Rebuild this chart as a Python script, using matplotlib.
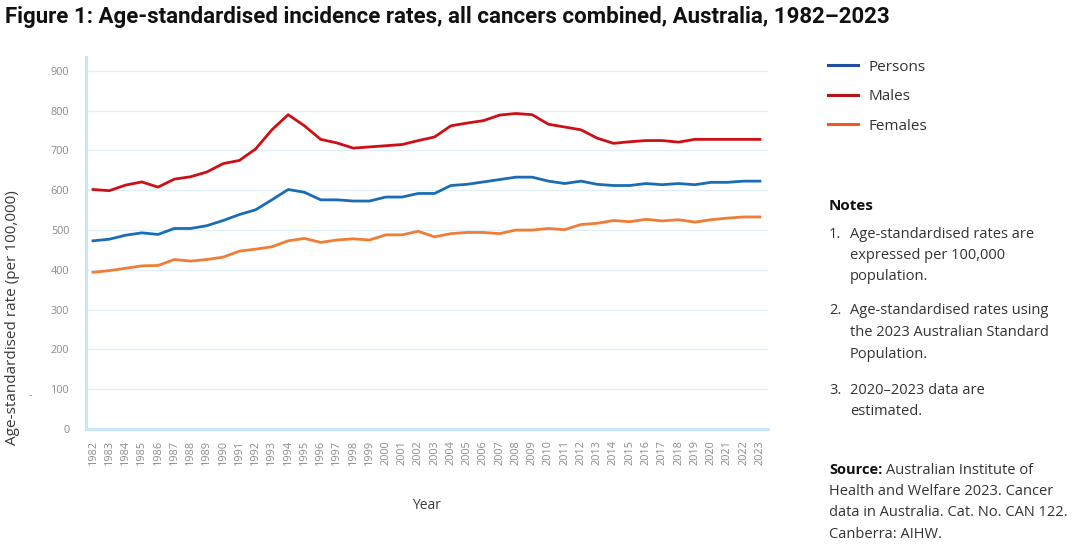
import matplotlib
matplotlib.use("Agg")
import matplotlib.pyplot as plt
from matplotlib.lines import Line2D

# --- data ---
years = list(range(1982, 2024))
persons = [473, 477, 487, 493, 489, 504, 504, 511, 524, 539, 551, 576, 602, 595,
           576, 576, 573, 573, 583, 583, 592, 592, 612, 615, 621, 627, 633, 633,
           623, 617, 623, 615, 612, 612, 617, 614, 617, 614, 620, 620, 623, 623]
males = [602, 599, 613, 621, 608, 628, 634, 646, 667, 675, 704, 752, 790, 762,
         728, 719, 706, 709, 712, 715, 725, 734, 762, 769, 775, 789, 793, 790,
         766, 759, 752, 731, 718, 722, 725, 725, 721, 728, 728, 728, 728, 728]
females = [394, 398, 404, 410, 411, 426, 422, 426, 432, 447, 452, 458, 473, 479,
           469, 475, 478, 475, 488, 488, 497, 483, 491, 494, 494, 491, 500, 500,
           504, 501, 514, 517, 524, 521, 527, 523, 526, 520, 526, 530, 533, 533]
series_names = ["Persons", "Males", "Females"]
line_colors = ["#1a6db5", "#cc1016", "#ef7d35"]
legend_colors = ["#1f4f9e", "#b3131b", "#f05a22"]
yticks = list(range(0, 1000, 100))

W, H = 1080, 551
FONT = ["Open Sans", "DejaVu Sans"]
plt.rcParams["font.family"] = FONT


def px(x, y):
    return x / W, 1 - y / H


fig = plt.figure(figsize=(W / 100, H / 100), dpi=100)
ax = fig.add_axes([86 / W, (H - 429) / H, 682 / W, (429 - 57) / H])

for vals, c in zip([persons, males, females], line_colors):
    ax.plot(years, vals, color=c, lw=2.0, solid_joinstyle="round", zorder=3)

ax.set_xlim(1981.57, 2023.5)
ax.set_ylim(0, 935)
ax.set_yticks(yticks)
ax.set_xticks(years)
ax.set_xticklabels([str(y) for y in years], rotation=90)
ax.tick_params(axis="both", length=0, labelsize=7.8, labelcolor="#8c8c8c")
ax.tick_params(axis="y", pad=12)
ax.tick_params(axis="x", pad=8)
ax.grid(axis="y", color="#dff0fa", lw=1.0, zorder=0)
for s in ["top", "right"]:
    ax.spines[s].set_visible(False)
for s in ["left", "bottom"]:
    ax.spines[s].set_color("#c9e6f7")
    ax.spines[s].set_linewidth(2.2)

ax.set_ylabel("Age-standardised rate (per 100,000)", fontsize=11, color="#3a3a3a")
ax.yaxis.set_label_coords((20 - 86) / 682, 0.30)
ax.set_xlabel("Year", fontsize=10, color="#3a3a3a")
ax.xaxis.set_label_coords(0.50, -0.185)
fig.text(*px(30, 396), "-", fontsize=7, color="#777777", ha="center", va="center")

# title
fig.text(*px(5, 17), "Figure 1: Age-standardised incidence rates, all cancers combined, Australia, 1982\u20132023",
         fontsize=16, fontweight="bold", family=["Roboto", "DejaVu Sans"],
         color="#111111", ha="left", va="center")

# legend
handles = [Line2D([], [], color=c, lw=2.2) for c in legend_colors]
fig.legend(handles, series_names, loc="upper left", bbox_to_anchor=px(814, 46),
           frameon=False, fontsize=11, handlelength=2.0, handletextpad=0.65,
           labelspacing=0.95, labelcolor="#333333")

# notes
txt = "#333333"
fig.text(*px(829, 206), "Notes", fontsize=11, fontweight="bold", color="#111111", va="center")
notes = [
    (234, "1.", ["Age-standardised rates are", "expressed per 100,000", "population."]),
    (311, "2.", ["Age-standardised rates using", "the 2023 Australian Standard", "Population."]),
    (390, "3.", ["2020\u20132023 data are", "estimated."]),
]
for y0, num, lines in notes:
    fig.text(*px(829, y0), num, fontsize=10.5, color=txt, va="center")
    for i, ln in enumerate(lines):
        fig.text(*px(850, y0 + i * 21.5), ln, fontsize=10.5, color=txt, va="center")

# source
src_lines = ["Australian Institute of", "Health and Welfare 2023. Cancer",
             "data in Australia. Cat. No. CAN 122.", "Canberra: AIHW."]
src = fig.text(*px(829, 470), "Source:", fontsize=10.5, fontweight="bold", color="#111111", va="center")
fig.canvas.draw()
bb = src.get_window_extent(fig.canvas.get_renderer())
fig.text(*px(bb.x1 + 4, 470), src_lines[0], fontsize=10.5, color=txt, va="center")
for i, ln in enumerate(src_lines[1:], start=1):
    fig.text(*px(829, 470 + i * 21.5), ln, fontsize=10.5, color=txt, va="center")

fig.savefig("out.png", dpi=100, facecolor="white")
